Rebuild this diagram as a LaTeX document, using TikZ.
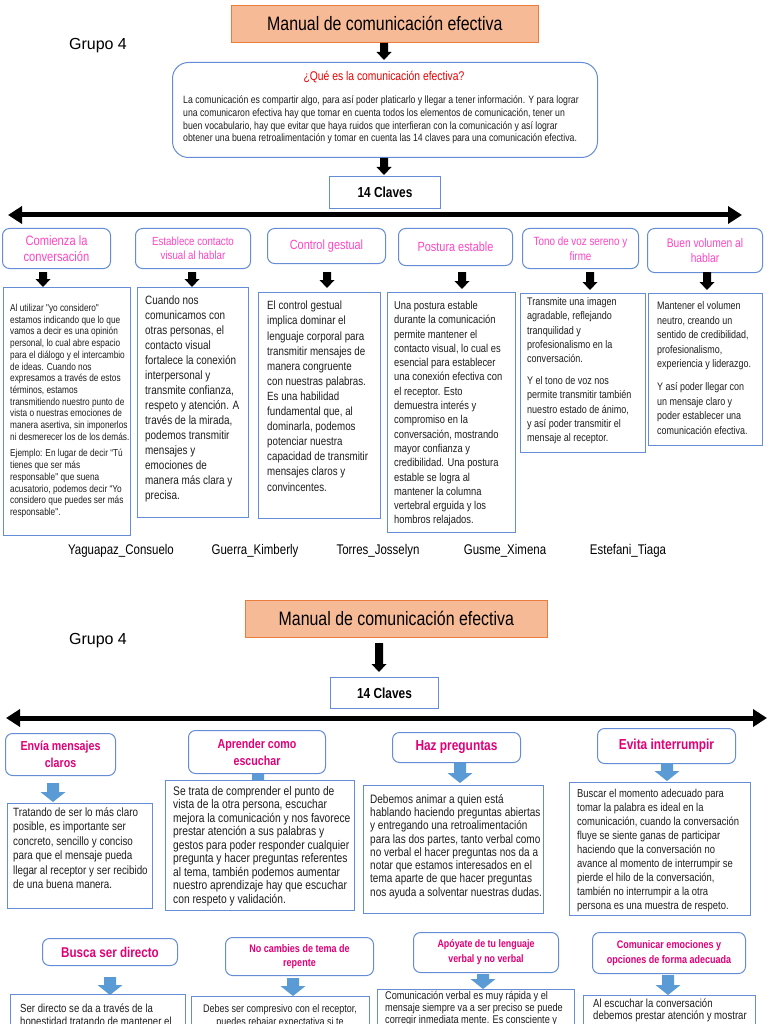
\documentclass[tikz,border=0pt]{standalone}
\usepackage{fontspec}
\setmainfont{Liberation Sans}
\newfontfamily\nar{Liberation Sans}[FakeStretch=0.82]
\usetikzlibrary{arrows.meta}
\definecolor{bblue}{RGB}{100,140,215}
\definecolor{hpink}{RGB}{255,70,195}
\definecolor{hmag}{RGB}{225,0,120}
\definecolor{aqblue}{RGB}{91,155,213}
\definecolor{salmon}{RGB}{247,186,150}
\definecolor{sborder}{RGB}{235,125,60}
\definecolor{txt}{RGB}{30,30,30}
\definecolor{qred}{RGB}{240,0,0}
\newcommand\fs[2]{\fontsize{#1}{#2}\selectfont}
\newcommand\barrow[7]{\fill[#7] (#1-#4,#2) -- (#1+#4,#2) -- (#1+#4,#3-#6) -- (#1+#5,#3-#6) -- (#1,#3) -- (#1-#5,#3-#6) -- (#1-#4,#3-#6) -- cycle;}
\newcommand\karrow[3]{\barrow{#1}{#2}{#3}{4}{7.5}{8}{black}}
\newcommand\qarrow[3]{\barrow{#1}{#2}{#3}{6}{12.5}{10}{aqblue}}
\newcommand\bx[6]{\pgfmathsetmacro\bw{#4-#2}\pgfmathsetmacro\bh{#5-#3}%
  \node[#1,anchor=north west,minimum width=\bw pt,minimum height=\bh pt,inner sep=0pt] (#6) at (#2,#3) {};}
\tikzset{
  titlebox/.style={draw=sborder, fill=salmon, line width=0.6pt},
  hbox/.style={draw=bblue, rounded corners=7pt, line width=1pt, fill=white},
  mainbox/.style={draw=bblue, rounded corners=16pt, line width=1pt, fill=white},
  tbox/.style={draw=bblue, line width=1pt, fill=white},
  ptext/.style={anchor=north west, inner sep=0pt, align=left, text=txt},
  htext/.style={align=center, text=hpink, inner sep=0pt},
  btext/.style={align=center, text=hmag, inner sep=0pt},
  dbl/.style={line width=5pt, {Triangle[length=14pt,width=17pt]}-{Triangle[length=14pt,width=17pt]}},
  plain/.style={inner sep=0pt, text=black}
}
\begin{document}
\begin{tikzpicture}[x=1pt,y=-1pt]
\clip (0,0) rectangle (768,1024);
\fill[white] (0,0) rectangle (768,1024);
%================ TOP HALF ================
\bx{titlebox}{231}{5}{538}{42}{t1}
\node[plain, font=\nar\fs{19.4}{22}] (t1t) at (t1.center) {Manual de comunicación efectiva};
\node[plain, font=\fs{16}{18}] (g1) at (98,46) {Grupo 4};
\karrow{384}{43}{60}
\bx{mainbox}{172}{62}{597}{157}{mq}
\node[inner sep=0pt, text=qred, font=\nar\fs{12.6}{14}] (mqt) at (384,77) {¿Qué es la comunicación efectiva?};
\node[ptext, font=\nar\fs{10.6}{12.8}] (mqp) at (183,95.5) {La comunicación es compartir algo, para así poder platicarlo y llegar a tener información. Y para lograr\\
una comunicaron efectiva hay que tomar en cuenta todos los elementos de comunicación, tener un\\
buen vocabulario, hay que evitar que haya ruidos que interfieran con la comunicación y así lograr\\
obtener una buena retroalimentación y tomar en cuenta las 14 claves para una comunicación efectiva.};
\karrow{384}{158}{175}
\bx{tbox}{329}{176}{440}{208}{k1}
\node[plain, font=\nar\bfseries\fs{14.5}{16}] (k1t) at (k1.center) {14 Claves};
\coordinate (d1l) at (8,215);
\coordinate (d1r) at (742,215);
\draw[dbl] (d1l) -- (d1r);
% headings
\bx{hbox}{2}{228}{110}{268}{h1}
\node[htext, font=\nar\fs{13.6}{16}] (h1t) at (h1.center) {Comienza la\\conversación};
\bx{hbox}{135}{228}{250}{268}{h2}
\node[htext, font=\nar\fs{11.8}{14.5}] (h2t) at (h2.center) {Establece contacto\\visual al hablar};
\bx{hbox}{267}{228}{385}{263}{h3}
\node[htext, font=\nar\fs{13.3}{16}] (h3t) at (h3.center) {Control gestual};
\bx{hbox}{398}{228}{512}{265}{h4}
\node[htext, font=\nar\fs{13.3}{16}] (h4t) at (h4.center) {Postura estable};
\bx{hbox}{522}{228}{638}{268}{h5}
\node[htext, font=\nar\fs{12}{15}] (h5t) at (h5.center) {Tono de voz sereno y\\firme};
\bx{hbox}{647}{228}{762}{272}{h6}
\node[htext, font=\nar\fs{12.5}{15}] (h6t) at (h6.center) {Buen volumen al\\hablar};
% arrows
\karrow{43}{272}{287}
\karrow{192}{272}{287}
\karrow{327}{272}{288}
\karrow{462}{272}{289}
\karrow{590}{272}{290}
\karrow{707}{272}{290}
% text boxes
\bx{tbox}{3}{287}{130}{535}{b1}
\node[ptext, font=\nar\fs{10.1}{11.7}] (b1t) at (10,304) {Al utilizar "yo considero"\\
estamos indicando que lo que\\
vamos a decir es una opinión\\
personal, lo cual abre espacio\\
para el diálogo y el intercambio\\
de ideas. Cuando nos\\
expresamos a través de estos\\
términos, estamos\\
transmitiendo nuestro punto de\\
vista o nuestras emociones de\\
manera asertiva, sin imponerlos\\
ni desmerecer los de los demás.\\[5pt]
Ejemplo: En lugar de decir “Tú\\
tienes que ser más\\
responsable" que suena\\
acusatorio, podemos decir “Yo\\
considero que puedes ser más\\
responsable".};
\bx{tbox}{137}{287}{248}{517}{b2}
\node[ptext, font=\nar\fs{12.1}{15}] (b2t) at (145,296) {Cuando nos\\
comunicamos con\\
otras personas, el\\
contacto visual\\
fortalece la conexión\\
interpersonal y\\
transmite confianza,\\
respeto y atención. A\\
través de la mirada,\\
podemos transmitir\\
mensajes y\\
emociones de\\
manera más clara y\\
precisa.};
\bx{tbox}{258}{292}{380}{518}{b3}
\node[ptext, font=\nar\fs{11.9}{15.1}] (b3t) at (267,301) {El control gestual\\
implica dominar el\\
lenguaje corporal para\\
transmitir mensajes de\\
manera congruente\\
con nuestras palabras.\\
Es una habilidad\\
fundamental que, al\\
dominarla, podemos\\
potenciar nuestra\\
capacidad de transmitir\\
mensajes claros y\\
convincentes.};
\bx{tbox}{387}{292}{515}{532}{b4}
\node[ptext, font=\nar\fs{11.4}{14.3}] (b4t) at (394,301) {Una postura estable\\
durante la comunicación\\
permite mantener el\\
contacto visual, lo cual es\\
esencial para establecer\\
una conexión efectiva con\\
el receptor. Esto\\
demuestra interés y\\
compromiso en la\\
conversación, mostrando\\
mayor confianza y\\
credibilidad. Una postura\\
estable se logra al\\
mantener la columna\\
vertebral erguida y los\\
hombros relajados.};
\bx{tbox}{520}{293}{645}{452}{b5}
\node[ptext, font=\nar\fs{11}{14.2}] (b5t) at (527,297.6) {Transmite una imagen\\
agradable, reflejando\\
tranquilidad y\\
profesionalismo en la\\
conversación.\\[8pt]
Y el tono de voz nos\\
permite transmitir también\\
nuestro estado de ánimo,\\
y así poder transmitir el\\
mensaje al receptor.};
\bx{tbox}{648}{293}{762}{445}{b6}
\node[ptext, font=\nar\fs{10.9}{14.5}] (b6t) at (657,301.7) {Mantener el volumen\\
neutro, creando un\\
sentido de credibilidad,\\
profesionalismo,\\
experiencia y liderazgo.\\[8.5pt]
Y así poder llegar con\\
un mensaje claro y\\
poder establecer una\\
comunicación efectiva.};
% names
\node[plain, font=\nar\fs{14}{16}] (n1) at (121,551) {Yaguapaz\_Consuelo};
\node[plain, font=\nar\fs{14}{16}] (n2) at (255,551) {Guerra\_Kimberly};
\node[plain, font=\nar\fs{14}{16}] (n3) at (378,551) {Torres\_Josselyn};
\node[plain, font=\nar\fs{14}{16}] (n4) at (505,551) {Gusme\_Ximena};
\node[plain, font=\nar\fs{14}{16}] (n5) at (628,551) {Estefani\_Tiaga};
%================ BOTTOM HALF ================
\bx{titlebox}{245}{600}{547}{637}{t2}
\node[plain, font=\nar\fs{19.4}{22}] (t2t) at (t2.center) {Manual de comunicación efectiva};
\node[plain, font=\fs{16}{18}] (g2) at (98,641) {Grupo 4};
\karrow{379}{643}{672}
\bx{tbox}{330}{677}{438}{708}{k2}
\node[plain, font=\nar\bfseries\fs{14.5}{16}] (k2t) at (k2.center) {14 Claves};
\coordinate (d2l) at (6,718);
\coordinate (d2r) at (767,718);
\draw[dbl] (d2l) -- (d2r);
% headings row 1
\bx{hbox}{5}{733}{115}{775}{p1}
\node[btext, font=\nar\bfseries\fs{13}{17}] (p1t) at (p1.center) {Envía mensajes\\claros};
\qarrow{258}{773}{792}
\bx{hbox}{188}{730}{325}{773}{p2}
\node[btext, font=\nar\bfseries\fs{13}{17}] (p2t) at (p2.center) {Aprender como\\escuchar};
\bx{hbox}{392}{732}{520}{762}{p3}
\node[btext, font=\nar\bfseries\fs{14.5}{17}] (p3t) at (p3.center) {Haz preguntas};
\bx{hbox}{597}{728}{735}{763}{p4}
\node[btext, font=\nar\bfseries\fs{14.5}{17}] (p4t) at (p4.center) {Evita interrumpir};
\qarrow{53}{783}{802}
\qarrow{460}{763}{783}
\qarrow{667}{763}{781}
% text boxes row 1
\bx{tbox}{7}{803}{152}{908}{q1}
\node[ptext, font=\nar\fs{12}{14.5}] (q1t) at (13,807) {Tratando de ser lo más claro\\
posible, es importante ser\\
concreto, sencillo y conciso\\
para que el mensaje pueda\\
llegar al receptor y ser recibido\\
de una buena manera.};
\bx{tbox}{165}{780}{354}{910}{q2}
\node[ptext, font=\nar\fs{12.5}{13.5}] (q2t) at (173,786) {Se trata de comprender el punto de\\
vista de la otra persona, escuchar\\
mejora la comunicación y nos favorece\\
prestar atención a sus palabras y\\
gestos para poder responder cualquier\\
pregunta y hacer preguntas referentes\\
al tema, también podemos aumentar\\
nuestro aprendizaje hay que escuchar\\
con respeto y validación.};
\bx{tbox}{363}{785}{543}{913}{q3}
\node[ptext, font=\nar\fs{12.2}{13.3}] (q3t) at (370,794) {Debemos animar a quien está\\
hablando haciendo preguntas abiertas\\
y entregando una retroalimentación\\
para las dos partes, tanto verbal como\\
no verbal el hacer preguntas nos da a\\
notar que estamos interesados en el\\
tema aparte de que hacer preguntas\\
nos ayuda a solventar nuestras dudas.};
\bx{tbox}{569}{782}{750}{915}{q4}
\node[ptext, font=\nar\fs{11.5}{14}] (q4t) at (577,789) {Buscar el momento adecuado para\\
tomar la palabra es ideal en la\\
comunicación, cuando la conversación\\
fluye se siente ganas de participar\\
haciendo que la conversación no\\
avance al momento de interrumpir se\\
pierde el hilo de la conversación,\\
también no interrumpir a la otra\\
persona es una muestra de respeto.};
% headings row 2
\bx{hbox}{42}{938}{177}{965}{r1}
\node[btext, font=\nar\bfseries\fs{14.2}{17}] (r1t) at (r1.center) {Busca ser directo};
\bx{hbox}{225}{937}{373}{975}{r2}
\node[btext, font=\nar\bfseries\fs{11}{13.5}] (r2t) at (r2.center) {No cambies de tema de\\repente};
\bx{hbox}{413}{932}{558}{972}{r3}
\node[btext, font=\nar\bfseries\fs{10.8}{15}] (r3t) at (r3.center) {Apóyate de tu lenguaje\\verbal y no verbal};
\bx{hbox}{592}{932}{745}{973}{r4}
\node[btext, font=\nar\bfseries\fs{11}{15}] (r4t) at (r4.center) {Comunicar emociones y\\opciones de forma adecuada};
\qarrow{110}{977}{995}
\qarrow{293}{978}{996}
\qarrow{483}{974}{989}
\qarrow{668}{975}{995}
% text boxes row 2 (cut by page edge)
\bx{tbox}{10}{994}{185}{1040}{s1}
\node[ptext, font=\nar\fs{11.7}{13}] (s1t) at (20,1004) {Ser directo se da a través de la\\
honestidad tratando de mantener el};
\bx{tbox}{191}{996}{369}{1040}{s2}
\node[inner sep=0pt, anchor=north, align=center, text=txt, font=\nar\fs{11}{13}] (s2t) at (280,1004) {Debes ser compresivo con el receptor,\\
puedes rebajar expectativa si te};
\bx{tbox}{377}{989}{574}{1040}{s3}
\node[ptext, font=\nar\fs{11.2}{11.7}] (s3t) at (385,991.5) {Comunicación verbal es muy rápida y el\\
mensaje siempre va a ser preciso se puede\\
corregir inmediata mente. Es consciente y};
\bx{tbox}{583}{995}{755}{1040}{s4}
\node[ptext, font=\nar\fs{11.7}{12}] (s4t) at (593,999) {Al escuchar la conversación\\
debemos prestar atención y mostrar};
\end{tikzpicture}
\end{document}
